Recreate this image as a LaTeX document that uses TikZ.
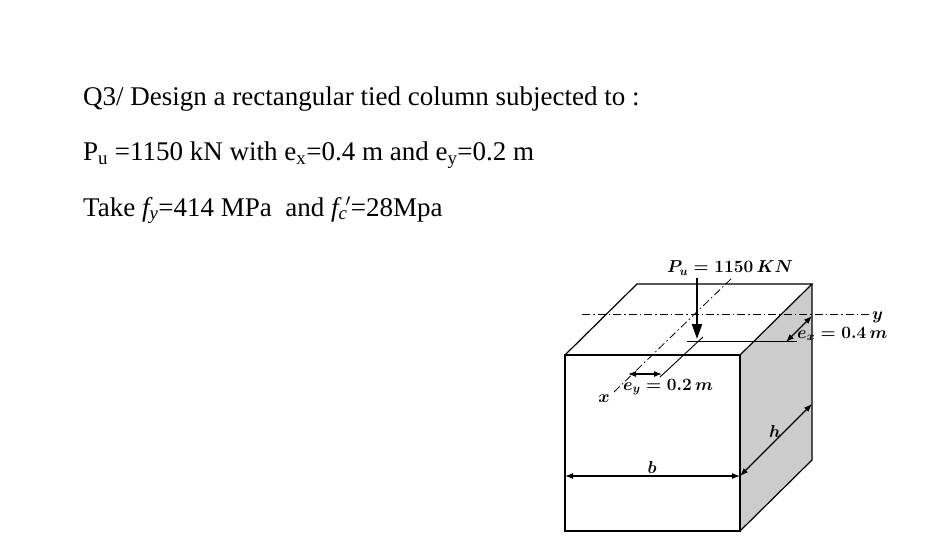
\documentclass[tikz,border=0pt]{standalone}
\usepackage{fontspec}
\setmainfont{Liberation Serif}
\usetikzlibrary{arrows.meta}
\begin{document}
\begin{tikzpicture}[x=1pt,y=-1pt,
  edge/.style={line width=1.2pt},
  dim/.style={line width=1.1pt,{Latex[length=8pt,width=6pt]}-{Latex[length=8pt,width=6pt]}},
  axis/.style={line width=0.8pt,dash pattern=on 8pt off 3pt on 1.5pt off 3pt},
  txt/.style={anchor=base west,inner sep=0pt,font=\fontsize{27}{30}\selectfont},
  lab/.style={inner sep=0pt,font=\fontsize{17}{20}\selectfont\boldmath}]
\useasboundingbox (0,0) rectangle (950,556);
\node[txt] (t1) at (83,106) {Q3/ Design a rectangular tied column subjected to :};
\node[txt] (t2) at (83,161) {P\textsubscript{u} =1150 kN with e\textsubscript{x}=0.4 m and e\textsubscript{y}=0.2 m};
\node[txt] (t3) at (83,216) {Take \textit{f\textsubscript{y}}=414 MPa\ \ and \textit{f\textsubscript{c}\kern-2pt\textsuperscript{$\prime$}}=28Mpa};
% cube
\coordinate (A) at (565,355); \coordinate (B) at (740,355);
\coordinate (C) at (740,531); \coordinate (D) at (565,531);
\coordinate (E) at (637,284); \coordinate (F) at (812,284);
\coordinate (G) at (812,460);
\fill[gray!40] (B) -- (F) -- (G) -- (C) -- cycle;
\draw[edge] (A) -- (B) -- (C) -- (D) -- cycle;
\draw[edge] (A) -- (E) -- (F) -- (B);
\draw[edge] (F) -- (G) -- (C);
% axes
\coordinate (y1) at (582,314); \coordinate (y2) at (870,314);
\draw[axis] (y1) -- (y2);
\node[lab,anchor=west] (ylab) at (872,317) {$y$};
\coordinate (x1) at (614,392); \coordinate (x2) at (733,277);
\draw[axis] (x1) -- (x2);
\node[lab] (xlab) at (604,399) {$x$};
% load lines
\coordinate (s1) at (660,377); \coordinate (s2) at (703,337);
\draw[line width=0.9pt] (s1) -- (s2);
\coordinate (h1) at (687,341); \coordinate (h2) at (797,341);
\draw[line width=0.9pt] (h1) -- (h2);
\coordinate (p1) at (697,278); \coordinate (p2) at (697,339);
\draw[line width=2.2pt,-{Triangle[length=15pt,width=10pt]}] (p1) -- (p2);
\node[lab] (pu) at (730,268) {$P_u=1150\,KN$};
% ey
\coordinate (ey1) at (628,374); \coordinate (ey2) at (662,374);
\draw[dim] (ey1) -- (ey2);
\node[lab] (eyl) at (668,387) {$e_y=0.2\,m$};
% ex
\coordinate (ex1) at (786,342); \coordinate (ex2) at (812,316);
\draw[dim] (ex1) -- (ex2);
\node[lab,anchor=west] (exl) at (797,334) {$e_x=0.4\,m$};
% b, h
\draw[dim] (D|-0,476) coordinate (b1) -- (C|-0,476) coordinate (b2);
\node[lab] (bl) at (652,467) {$b$};
\coordinate (hh1) at (740,476); \coordinate (hh2) at (812,404);
\draw[dim] (hh1) -- (hh2);
\node[lab] (hl) at (775,431) {$h$};
\end{tikzpicture}
\end{document}
